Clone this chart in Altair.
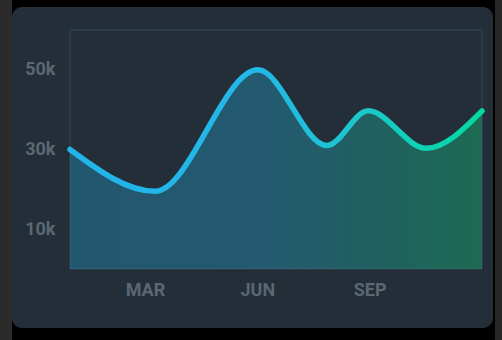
import altair as alt
import pandas as pd

# Data (x in month-index units, Jan = 0 ... Dec = 11)
month_pos = [0, 2.27, 5.02, 6.86, 7.96, 9.51, 11]
values = [30000, 19500, 50000, 31000, 39700, 30300, 39700]
month_labels = ["JAN", "FEB", "MAR", "APR", "MAY", "JUN",
                "JUL", "AUG", "SEP", "OCT", "NOV", "DEC"]
x_ticks = [2, 5, 8]
y_ticks = [10000, 30000, 50000]

df = pd.DataFrame({"m": month_pos, "v": values})
one = pd.DataFrame({"k": [0]})

W, H = 412, 239
FONT = "Roboto"
LABEL_COLOR = "#5b6771"

label_arr = "[" + ",".join("'" + s + "'" for s in month_labels) + "]"

x_scale = alt.Scale(domain=[0, 11], nice=False, zero=False)
y_scale = alt.Scale(domain=[0, 60000], nice=False)

x_enc = alt.X("m:Q", scale=x_scale,
              axis=alt.Axis(values=x_ticks, labelExpr=label_arr + "[datum.value]",
                            domain=False, ticks=False, grid=False, title=None,
                            labelPadding=12, labelFont=FONT, labelFontSize=18,
                            labelFontWeight="bold", labelColor=LABEL_COLOR,
                            zindex=1))
y_enc = alt.Y("v:Q", scale=y_scale,
              axis=alt.Axis(values=y_ticks, labelExpr="(datum.value/1000) + 'k'",
                            domain=False, ticks=False, grid=False, title=None,
                            labelPadding=15, labelFont=FONT, labelFontSize=18,
                            labelFontWeight="bold", labelColor=LABEL_COLOR,
                            zindex=1))

left_strip = alt.Chart(one).mark_rect(color="#2b2b2b").encode(
    x=alt.value(-70), x2=alt.value(-58), y=alt.value(-30), y2=alt.value(310))
right_strip = alt.Chart(one).mark_rect(color="#272727").encode(
    x=alt.value(425), x2=alt.value(432), y=alt.value(-30), y2=alt.value(310))
card = alt.Chart(one).mark_rect(color="#232e38", cornerRadius=10).encode(
    x=alt.value(-58), x2=alt.value(423), y=alt.value(-23), y2=alt.value(298))

area_grad = alt.Gradient(
    gradient="linear", x1=0, x2=1, y1=0, y2=0,
    stops=[alt.GradientStop(offset=0, color="#235770"),
           alt.GradientStop(offset=0.5, color="#235a6f"),
           alt.GradientStop(offset=0.7, color="#215f62"),
           alt.GradientStop(offset=1, color="#1d6a52")])
line_grad = alt.Gradient(
    gradient="linear", x1=0, x2=1, y1=0, y2=0,
    stops=[alt.GradientStop(offset=0, color="#22b4e8"),
           alt.GradientStop(offset=0.45, color="#22b8e8"),
           alt.GradientStop(offset=0.7, color="#1cc7cc"),
           alt.GradientStop(offset=1, color="#02d9a0")])

area = alt.Chart(df).mark_area(interpolate="monotone", fill=area_grad).encode(
    x=x_enc, y=y_enc)

frame = alt.Chart(one).mark_rect(fill="transparent", stroke="#5a7890",
                                 strokeOpacity=0.35, strokeWidth=1).encode(
    x=alt.datum(0, scale=x_scale), x2=alt.datum(11),
    y=alt.datum(0, scale=y_scale), y2=alt.datum(60000))

line = alt.Chart(df).mark_line(interpolate="monotone", stroke=line_grad,
                               strokeWidth=5.5, strokeCap="round",
                               strokeJoin="round").encode(x=x_enc, y=y_enc)

chart = alt.layer(left_strip, right_strip, card, area, frame, line).properties(
    width=W, height=H,
    padding={"left": 70, "top": 30, "right": 20, "bottom": 71},
    autosize=alt.AutoSizeParams(type="none"),
    background="#000000",
).configure_view(stroke=None)

chart.save("out.html", embed_options={"renderer": "svg", "actions": False})
